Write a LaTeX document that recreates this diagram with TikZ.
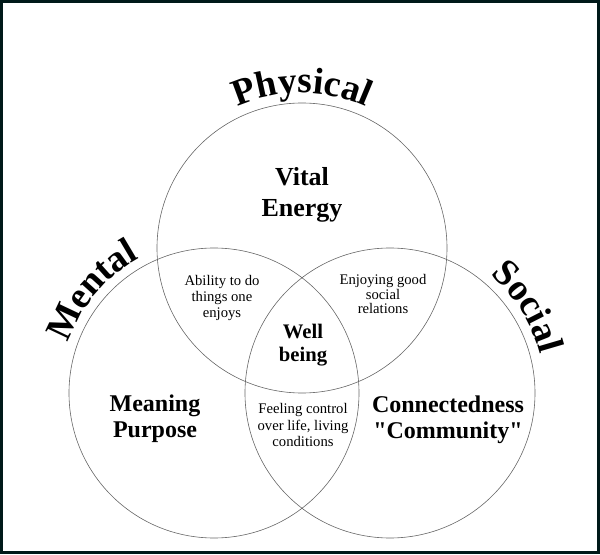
\documentclass[tikz,border=0pt]{standalone}
\usepackage{fontspec}
\setmainfont{Liberation Serif}
\newfontfamily\plainq{Liberation Serif}
\usetikzlibrary{decorations.text}

\begin{document}
\begin{tikzpicture}[
  x=0.75pt, y=0.75pt,
  venn/.style ={circle, draw=black!60, line width=0.45pt, minimum size=217.5pt, inner sep=0pt},
  big/.style  ={align=center, font=\fontsize{19.5}{23}\selectfont\bfseries},
  mid/.style  ={align=center, font=\fontsize{18}{19.5}\selectfont\bfseries},
  well/.style ={align=center, font=\fontsize{15.5}{17.5}\selectfont\bfseries},
  small/.style={align=center, font=\fontsize{11}{12.2}\selectfont},
  frame/.style={draw=black!80!teal, line width=1.9pt},
]
  \useasboundingbox (0,0) rectangle (600,554);
  \draw[frame] (1.3,1.3) rectangle (598.7,552.7);
  % the three circles
  \node[venn] (phys) at (302,306) {};
  \node[venn] (ment) at (214,161) {};
  \node[venn] (soc)  at (390,161) {};
  % curved headings
  \def\arcfont{\fontsize{28}{30}\selectfont\bfseries}
  \path[decorate, decoration={text along path, text align=center, text={|\arcfont|Physical}}]
    (phys.center) ++(130:155) arc[start angle=130, end angle=50, radius=155];
  \path[decorate, decoration={text along path, text align=center, text={|\arcfont|Mental}}]
    (ment.center) ++(183:154) arc[start angle=183, end angle=97, radius=154];
  \path[decorate, decoration={text along path, text align=center, text={|\arcfont|Social}}]
    (soc.center) ++(75:155) arc[start angle=75, end angle=-11, radius=155];
  % region texts
  \node[big]   (vital) at (302,359) {Vital\\Energy};
  \node[small] (abil)  at (222,256) {Ability to do\\things one\\enjoys};
  \node[small, font=\fontsize{11}{10.8}\selectfont] (enjoy) at (383,260) {Enjoying good\\social\\relations};
  \node[well]  (wb)    at (303,209) {Well\\being};
  \node[mid]   (mean)  at (155,135) {Meaning\\Purpose};
  \node[mid]   (conn)  at (448,134) {Connectedness\\{\plainq\bfseries"}Community{\plainq\bfseries"}};
  \node[small] (feel)  at (303,129) {Feeling control\\over life, living\\conditions};
\end{tikzpicture}
\end{document}
